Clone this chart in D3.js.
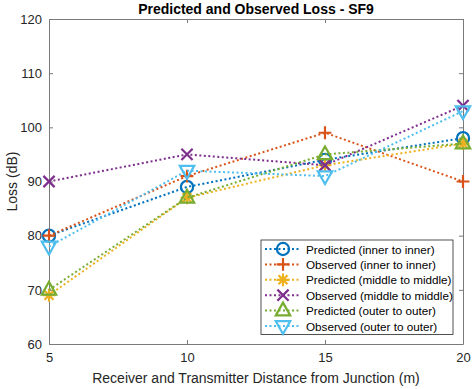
<!DOCTYPE html>
<html>
<head>
<meta charset="utf-8">
<script src="https://cdn.jsdelivr.net/npm/d3@7"></script>
<style>
  body { margin: 0; background: #fff; }
  svg text { font-family: "Liberation Sans", Arial, sans-serif; }
</style>
</head>
<body>
<div id="chart"></div>
<script>
var distances = [5, 10, 15, 20]
var xTicks = [5, 10, 15, 20]
var yTicks = [60, 70, 80, 90, 100, 110, 120]

var predInner = [80, 89, 94, 98]
var obsInner = [80, 91, 99, 90]
var predMiddle = [69, 87, 93, 97]
var obsMiddle = [90, 95, 93, 104]
var predOuter = [70, 87, 95, 97]
var obsOuter = [78, 92, 91, 103]

var seriesNames = ["Predicted (inner to inner)", "Observed (inner to inner)",
    "Predicted (middle to middle)", "Observed (middle to middle)",
    "Predicted (outer to outer)", "Observed (outer to outer)"]

var series = [
    { name: seriesNames[0], values: predInner, color: "#0072BD", marker: "circle" },
    { name: seriesNames[1], values: obsInner, color: "#D95319", marker: "plus" },
    { name: seriesNames[2], values: predMiddle, color: "#EDB120", marker: "asterisk" },
    { name: seriesNames[3], values: obsMiddle, color: "#7E2F8E", marker: "cross" },
    { name: seriesNames[4], values: predOuter, color: "#77AC30", marker: "triUp" },
    { name: seriesNames[5], values: obsOuter, color: "#4DBEEE", marker: "triDown" }
]

var width = 474, height = 389
var margin = { left: 49, right: 11, top: 19, bottom: 45 }
var w = width - margin.left - margin.right,
    h = height - margin.top - margin.bottom

var svg = d3.select("#chart").append("svg")
    .attr("width", width)
    .attr("height", height)

var x = d3.scaleLinear().domain([5, 20]).range([0, w])
var y = d3.scaleLinear().domain([60, 120]).range([h, 0])

var g = svg.append("g")
    .attr("transform", "translate(" + margin.left + "," + margin.top + ")")

var axisColor = "#262626"

// axes with inward ticks
var xAxis = g.append("g")
    .attr("transform", "translate(0," + h + ")")
    .call(d3.axisBottom(x).tickValues(xTicks).tickSizeInner(-4).tickSizeOuter(0).tickPadding(9))
var yAxis = g.append("g")
    .call(d3.axisLeft(y).tickValues(yTicks).tickSizeInner(-4).tickSizeOuter(0).tickPadding(7))
var xTop = g.append("g")
    .call(d3.axisTop(x).tickValues(xTicks).tickSizeInner(-4).tickSizeOuter(0).tickFormat(""))
var yRight = g.append("g")
    .attr("transform", "translate(" + w + ",0)")
    .call(d3.axisRight(y).tickValues(yTicks).tickSizeInner(-4).tickSizeOuter(0).tickFormat(""))

;[xAxis, yAxis, xTop, yRight].forEach(function (a) {
    a.selectAll("path").attr("stroke", "#7a7a7a")
    a.selectAll("line").attr("stroke", "#7a7a7a")
    a.selectAll("text").attr("fill", axisColor).style("font-size", "13px")
})

// marker shapes
function drawMarker(sel, type, color, s) {
    var m
    if (type === "circle") {
        m = sel.append("circle").attr("r", s * 0.76)
    } else if (type === "plus") {
        var p = s * 0.8
        m = sel.append("path").attr("d", "M" + (-p) + ",0H" + p + "M0," + (-p) + "V" + p)
    } else if (type === "asterisk") {
        var a = s * 0.8, d = a * 0.7
        m = sel.append("path").attr("d", "M" + (-a) + ",0H" + a + "M0," + (-a) + "V" + a +
            "M" + (-d) + "," + (-d) + "L" + d + "," + d + "M" + (-d) + "," + d + "L" + d + "," + (-d))
    } else if (type === "cross") {
        var c = s * 0.7
        m = sel.append("path").attr("d", "M" + (-c) + "," + (-c) + "L" + c + "," + c + "M" + (-c) + "," + c + "L" + c + "," + (-c))
    } else if (type === "triUp") {
        m = sel.append("path").attr("d", "M0," + (-s) + "L" + (s * 0.9) + "," + (s * 0.6) + "L" + (-s * 0.9) + "," + (s * 0.6) + "Z")
    } else {
        m = sel.append("path").attr("d", "M0," + s + "L" + (s * 0.9) + "," + (-s * 0.6) + "L" + (-s * 0.9) + "," + (-s * 0.6) + "Z")
    }
    m.attr("stroke", color).attr("stroke-width", 2.2).attr("fill", "none")
}

var line = d3.line()
    .x(function (d, i) { return x(distances[i]) })
    .y(function (d) { return y(d) })

var plot = g.append("g")

series.forEach(function (s) {
    plot.append("path")
        .datum(s.values)
        .attr("d", line)
        .attr("fill", "none")
        .attr("stroke", s.color)
        .attr("stroke-width", 2)
        .attr("stroke-dasharray", "2,2.5")
    s.values.forEach(function (v, i) {
        var mg = plot.append("g").attr("transform", "translate(" + x(distances[i]) + "," + y(v) + ")")
        drawMarker(mg, s.marker, s.color, 8)
    })
})

// title and labels
svg.append("text")
    .attr("x", margin.left + w / 2)
    .attr("y", 14)
    .attr("text-anchor", "middle")
    .style("font-size", "14px")
    .style("font-weight", "bold")
    .attr("fill", "#000")
    .text("Predicted and Observed Loss - SF9")

svg.append("text")
    .attr("x", margin.left + w / 2)
    .attr("y", 383)
    .attr("text-anchor", "middle")
    .style("font-size", "14px")
    .attr("fill", axisColor)
    .text("Receiver and Transmitter Distance from Junction (m)")

svg.append("text")
    .attr("transform", "translate(17," + (margin.top + h / 2) + ") rotate(-90)")
    .attr("text-anchor", "middle")
    .style("font-size", "14px")
    .attr("fill", axisColor)
    .text("Loss (dB)")

// legend
var lx = 261, ly = 240, lw = 192, rowH = 15.4
var legend = svg.append("g").attr("transform", "translate(" + lx + "," + ly + ")")
legend.append("rect")
    .attr("width", lw).attr("height", rowH * 6 + 2)
    .attr("fill", "#fff").attr("stroke", "#262626").attr("stroke-width", 0.8)

series.forEach(function (s, i) {
    var row = legend.append("g").attr("transform", "translate(0," + (9 + i * rowH) + ")")
    row.append("line")
        .attr("x1", 4).attr("x2", 40)
        .attr("stroke", s.color).attr("stroke-width", 2)
        .attr("stroke-dasharray", "2,2.5")
    var mg = row.append("g").attr("transform", "translate(22,0)")
    drawMarker(mg, s.marker, s.color, 8)
    row.append("text")
        .attr("x", 45).attr("y", 4.5)
        .style("font-size", "11.7px")
        .attr("fill", "#000")
        .text(s.name)
})
</script>
</body>
</html>
